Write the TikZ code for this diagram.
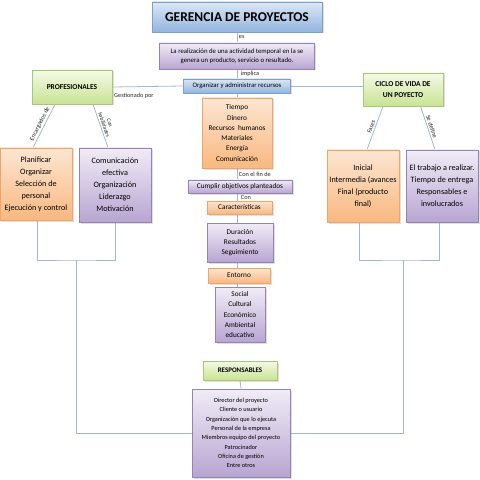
\documentclass[tikz,border=0pt]{standalone}
\usepackage{fontspec}
\setmainfont{Carlito}
\usetikzlibrary{shadows,calc,backgrounds}
\definecolor{lnc}{HTML}{A3B7D0}
\definecolor{blueT}{HTML}{DCE7F5}
\definecolor{blueB}{HTML}{93B5DF}
\definecolor{blueD}{HTML}{7C9FCB}
\definecolor{purT}{HTML}{F1ECF7}
\definecolor{purB}{HTML}{B8A5D2}
\definecolor{purD}{HTML}{9683B3}
\definecolor{orT}{HTML}{FDE6D2}
\definecolor{orB}{HTML}{F9B880}
\definecolor{orD}{HTML}{EFA56A}
\definecolor{grT}{HTML}{F4FAE6}
\definecolor{grB}{HTML}{C9E394}
\definecolor{grD}{HTML}{A9C77C}
\tikzset{
  box/.style={rectangle, draw, line width=0.6bp, inner sep=1bp, align=center,
    drop shadow={opacity=0.25, shadow xshift=1.5bp, shadow yshift=-1.5bp}},
  bluebox/.style={box, draw=blueD, top color=blueT, bottom color=blueB},
  purbox/.style={box, draw=purD, top color=purT, bottom color=purB},
  orbox/.style={box, draw=orD, top color=orT, bottom color=orB},
  grbox/.style={box, draw=grD, top color=grT, bottom color=grB},
  ln/.style={draw=lnc, line width=0.8bp},
  lbl/.style={font=\fontsize{6.3}{7}\selectfont, inner sep=1.5bp, text=black!85},
  ft/.style={font=\fontsize{7.3}{10.3}\selectfont},
  fm/.style={font=\fontsize{8.2}{12}\selectfont},
  fs/.style={font=\fontsize{6.8}{9.2}\selectfont},
  fb/.style={font=\fontsize{7.5}{11}\selectfont\bfseries},
}
\begin{document}
\begin{tikzpicture}[x=1bp,y=-1bp]
\useasboundingbox (0,0) rectangle (480,480);
% central column
\node[bluebox, minimum width=170bp, minimum height=30bp, font=\fontsize{13.5}{15}\selectfont\bfseries] (ger) at (237,17) {GERENCIA DE PROYECTOS};
\node[purbox, minimum width=155bp, minimum height=26bp, fs] (real) at (237,56) {La realización de una actividad temporal en la se\\genera un producto, servicio o resultado.};
\node[bluebox, minimum width=107bp, minimum height=14bp, fs] (org) at (237,86) {Organizar y administrar recursos};
\node[orbox, minimum width=70bp, minimum height=70bp, ft] (tiem) at (237,133) {Tiempo\\Dinero\\Recursos\ \ humanos\\Materiales\\Energía\\Comunicación};
\node[purbox, minimum width=104bp, minimum height=13bp, ft] (cump) at (240,186.5) {Cumplir objetivos planteados};
\node[orbox, minimum width=65bp, minimum height=13bp, ft] (car) at (239.5,207.5) {Características};
\node[purbox, minimum width=66bp, minimum height=39bp, ft] (dur) at (240,242.5) {Duración\\Resultados\\Seguimiento};
\node[orbox, minimum width=62bp, minimum height=15bp, ft] (ent) at (239,275.5) {Entorno};
\node[purbox, minimum width=50bp, minimum height=55bp, ft] (soc) at (240,314.5) {Social\\Cultural\\Económico\\Ambiental\\educativo};
\node[grbox, minimum width=74bp, minimum height=19bp, font=\fontsize{7}{9}\selectfont\bfseries] (resp) at (240,370.5) {RESPONSABLES};
\node[purbox, minimum width=98bp, minimum height=88bp, font=\fontsize{6.3}{9.3}\selectfont] (big) at (241,433) {Director del proyecto\\Cliente o usuario\\Organización que lo ejecuta\\Personal de la empresa\\Miembros equipo del proyecto\\Patrocinador\\Oficina de gestión\\Entre otros};
% sides
\node[grbox, minimum width=80bp, minimum height=34bp, fb] (prof) at (72,87) {PROFESIONALES};
\node[grbox, minimum width=80bp, minimum height=33bp, fb] (ciclo) at (403,89.5) {CICLO DE VIDA DE\\UN POYECTO};
\node[orbox, minimum width=72bp, minimum height=72bp, fm] (plan) at (36,184) {Planificar\\Organizar\\Selección de\\personal\\Ejecución y control};
\node[purbox, minimum width=72bp, minimum height=74bp, fm] (com) at (115,185) {Comunicación\\efectiva\\Organización\\Liderazgo\\Motivación};
\node[orbox, minimum width=72bp, minimum height=72bp, fm] (ini) at (363,186) {Inicial\\Intermedia (avances\\Final (producto\\final)};
\node[purbox, minimum width=72bp, minimum height=72bp, fm] (trab) at (442,186) {El trabajo a realizar.\\Tiempo de entrega\\Responsables e\\involucrados};
\coordinate (lj) at (76,260);
\coordinate (rj) at (403,260);
% connectors (behind)
\begin{scope}[on background layer]
\draw[ln] (ger.south) -- node[lbl, right]{es} (real.north);
\draw[ln] (real.south) -- node[lbl, right, xshift=2bp]{implica} (org.north);
\draw[ln] (org.south) -- (tiem.north);
\draw[ln] (tiem.south) -- node[lbl, right]{Con el fin de} (tiem.south |- cump.north);
\draw[ln] (tiem.south |- cump.south) -- node[lbl, right, xshift=2bp]{Con} (tiem.south |- car.north);
\draw[ln] (tiem.south |- car.south) -- (tiem.south |- dur.north);
\draw[ln] (tiem.south |- dur.south) -- (tiem.south |- ent.north);
\draw[ln] (tiem.south |- ent.south) -- (tiem.south |- soc.north);
\draw[ln] (resp.south) -- (big.north);
\draw[ln] (prof.east) -- node[lbl, pos=0, anchor=north west, yshift=-4bp]{Gestionado por} (org.west);
\draw[ln] (org.east) -- (org.east -| ciclo.west);
\draw[ln] ([xshift=-17bp]prof.south) -- node[lbl, sloped, above]{Encargados de} ([xshift=-3bp]plan.north);
\draw[ln] ([xshift=21bp]prof.south) -- node[lbl, sloped, above, align=center, font=\fontsize{5.6}{6}\selectfont]{Con\\habilidades} ([xshift=-7bp]com.north);
\draw[ln] ([xshift=-20bp]ciclo.south) -- node[lbl, sloped, above]{Fases} ([xshift=4bp]ini.north);
\draw[ln] ([xshift=17.5bp]ciclo.south) -- node[lbl, sloped, above]{Se define} ([xshift=-7bp]trab.north);
\draw[ln] ([xshift=1bp]plan.south) |- (lj) -| (com.south);
\draw[ln] (lj) |- (big.west);
\draw[ln] ([xshift=-4bp]ini.south) |- (rj) -| ([xshift=-3bp]trab.south);
\draw[ln] (rj) |- (big.east);
\end{scope}
\end{tikzpicture}
\end{document}
